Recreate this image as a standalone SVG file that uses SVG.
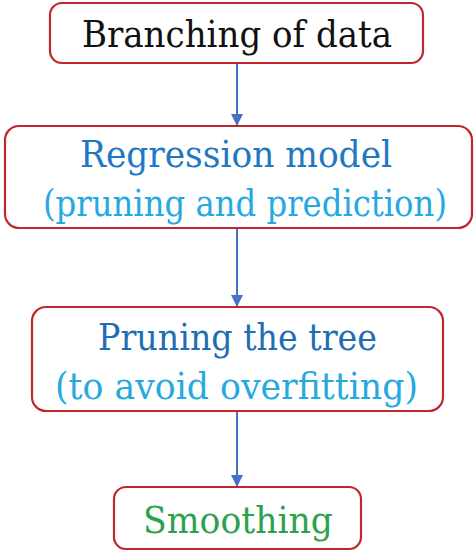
<svg xmlns="http://www.w3.org/2000/svg" width="474" height="553" viewBox="0 0 474 553">
<defs>
<style>
.box{fill:#fff;stroke:#c0272d;stroke-width:2.2}
.conn line{stroke:#4472c4;stroke-width:2}
</style>
<marker id="ah" markerWidth="12" markerHeight="12" viewBox="0 0 12 12" refX="11" refY="6" orient="auto" markerUnits="userSpaceOnUse">
<path d="M0,0 L12,6 L0,12 Z" fill="#4472c4"/>
</marker>
</defs>
<rect width="474" height="553" fill="#fff"/>
<g class="conn">
<line x1="237" y1="64" x2="237" y2="125" marker-end="url(#ah)"/>
<line x1="237" y1="229" x2="237" y2="306" marker-end="url(#ah)"/>
<line x1="237" y1="412" x2="237" y2="486" marker-end="url(#ah)"/>
</g>
<g font-family="DejaVu Serif Condensed, DejaVu Serif, serif" font-size="37" text-anchor="middle">
<g id="n1">
<rect class="box" x="50" y="3" width="373" height="60" rx="12"/>
<text x="237" y="47" fill="#111" textLength="310" lengthAdjust="spacingAndGlyphs">Branching of data</text>
</g>
<g id="n2">
<rect class="box" x="5" y="126" width="467" height="102" rx="14"/>
<text x="236" y="167" fill="#1f78c1" textLength="312" lengthAdjust="spacingAndGlyphs">Regression model</text>
<text x="245" y="216" fill="#25a9e0" textLength="404" lengthAdjust="spacingAndGlyphs">(pruning and prediction)</text>
</g>
<g id="n3">
<rect class="box" x="32" y="307" width="411" height="104" rx="14"/>
<text x="237.5" y="350" fill="#1f6db5" textLength="279" lengthAdjust="spacingAndGlyphs">Pruning the tree</text>
<text x="236.5" y="399" fill="#25a9e0" textLength="363" lengthAdjust="spacingAndGlyphs">(to avoid overfitting)</text>
</g>
<g id="n4">
<rect class="box" x="114" y="487" width="247" height="62" rx="12"/>
<text x="238" y="533" fill="#2ca24c" textLength="190" lengthAdjust="spacingAndGlyphs">Smoothing</text>
</g>
</g>
</svg>
